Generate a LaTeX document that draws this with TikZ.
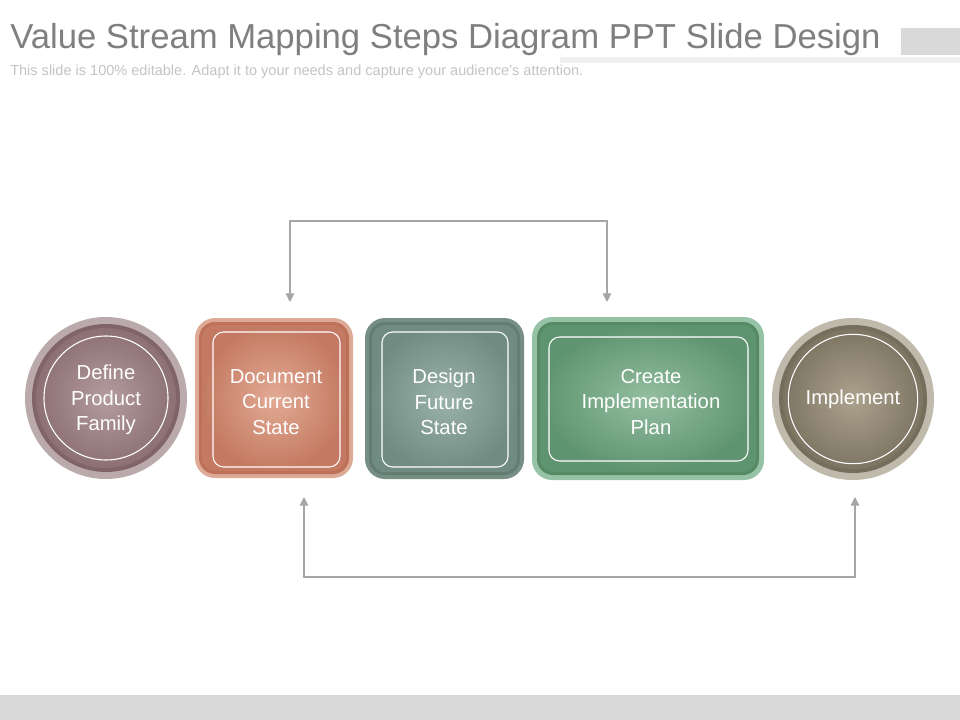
\documentclass[tikz,border=0pt]{standalone}
\usepackage{fontspec}
\setmainfont{Liberation Sans}
\usetikzlibrary{arrows.meta}
\definecolor{titlegray}{HTML}{7F7F7F}
\definecolor{subgray}{HTML}{C4C4C4}
\definecolor{bandgray}{HTML}{D9D9D9}
\definecolor{linegray}{HTML}{F0F0F0}
\definecolor{conngray}{HTML}{A6A6A6}
\definecolor{defL}{HTML}{BBAAAC}
\definecolor{defD}{HTML}{806467}
\definecolor{defI}{HTML}{B49C9E}
\definecolor{defO}{HTML}{8C7073}
\definecolor{docL}{HTML}{DDAA96}
\definecolor{docD}{HTML}{BE7058}
\definecolor{docI}{HTML}{E2AA94}
\definecolor{docO}{HTML}{C47A62}
\definecolor{desL}{HTML}{768E84}
\definecolor{desD}{HTML}{647D73}
\definecolor{desI}{HTML}{9AB2AA}
\definecolor{desO}{HTML}{708C82}
\definecolor{creL}{HTML}{96C3A5}
\definecolor{creD}{HTML}{558A64}
\definecolor{creI}{HTML}{93BEA0}
\definecolor{creO}{HTML}{5F9470}
\definecolor{impL}{HTML}{C0BAAC}
\definecolor{impD}{HTML}{766E5C}
\definecolor{impI}{HTML}{ACA28E}
\definecolor{impO}{HTML}{7D7462}
\begin{document}
\begin{tikzpicture}[x=0.75pt,y=-0.75pt,
  steptext/.style={text=white,align=center,font=\fontsize{15.2pt}{19pt}\selectfont,inner sep=0pt},
  whiteline/.style={draw=white,line width=0.8pt},
  conn/.style={draw=conngray,line width=0.8pt,{Triangle[width=6.5pt,length=6.5pt]}-{Triangle[width=6.5pt,length=6.5pt]}}]
\useasboundingbox (0,0) rectangle (960,720);
\fill[white] (0,0) rectangle (960,720);
% header
\node[anchor=base west,inner sep=0pt,text=titlegray,font=\fontsize{26pt}{30pt}\selectfont] (title) at (10,49) {Value Stream Mapping Steps Diagram PPT Slide Design};
\node[anchor=base west,inner sep=0pt,text=subgray,font=\fontsize{10.9pt}{12pt}\selectfont] (subtitle) at (10,76) {This slide is 100\% editable. Adapt it to your needs and capture your audience's attention.};
\fill[bandgray] (901,28) rectangle (960,55);
\fill[linegray] (560,57) rectangle (960,63);
\fill[bandgray] (0,695) rectangle (960,720);
% Define Product Family
\fill[defL] (106,398) circle[radius=60.75pt];
\fill[defD] (106,398) circle[radius=55.5pt];
\shade[inner color=defI,outer color=defO] (106,398) circle[radius=52.5pt];
\draw[whiteline] (106,398) circle[radius=46.5pt];
\node[steptext] (define) at (106,400) {Define\\Product\\Family};
% Document Current State
\fill[docL,rounded corners=15pt] (195,318) rectangle (353,478);
\fill[docD,rounded corners=12pt] (199,322) rectangle (349,474);
\shade[inner color=docI,outer color=docO,rounded corners=10pt] (202,325) rectangle (346,471);
\draw[whiteline,rounded corners=8pt] (213,332) rectangle (340,467);
\node[steptext] (doc) at (276,402) {Document\\Current\\State};
% Design Future State
\fill[desL,rounded corners=15pt] (365,318) rectangle (524,479);
\fill[desD,rounded corners=12pt] (369,322) rectangle (520,475);
\shade[inner color=desI,outer color=desO,rounded corners=10pt] (372,325) rectangle (517,472);
\draw[whiteline,rounded corners=8pt] (382,332) rectangle (508,467);
\node[steptext] (design) at (444,402) {Design\\Future\\State};
% Create Implementation Plan
\fill[creL,rounded corners=15pt] (532,317) rectangle (764,480);
\fill[creD,rounded corners=12pt] (537,322) rectangle (759,475);
\shade[inner color=creI,outer color=creO,rounded corners=10pt] (540,325) rectangle (756,472);
\draw[whiteline,rounded corners=8pt] (549,337) rectangle (748,461);
\node[steptext] (create) at (651,402) {Create\\Implementation\\Plan};
% Implement
\fill[impL] (853,399) circle[radius=60.75pt];
\fill[impD] (853,399) circle[radius=55.5pt];
\shade[inner color=impI,outer color=impO] (853,399) circle[radius=52.5pt];
\draw[whiteline] (853,399) circle[radius=48.5pt];
\node[steptext] (impl) at (853,399) {Implement};
% connectors
\coordinate (tA) at (290,302);
\coordinate (tl) at (290,221);
\coordinate (tr) at (607,221);
\coordinate (tB) at (607,302);
\draw[conn] (tA) -- (tl) -- (tr) -- (tB);
\coordinate (bA) at (304,497);
\coordinate (bl) at (304,577);
\coordinate (br) at (855,577);
\coordinate (bB) at (855,497);
\draw[conn] (bA) -- (bl) -- (br) -- (bB);
\end{tikzpicture}
\end{document}
